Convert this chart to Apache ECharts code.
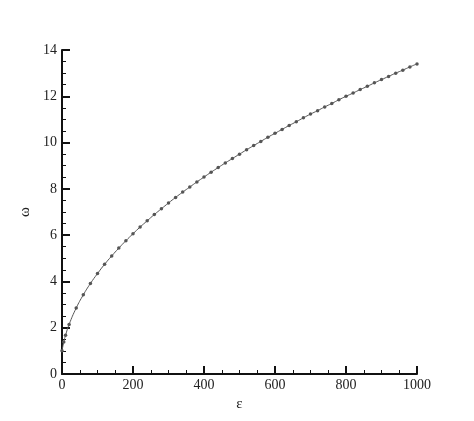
<!DOCTYPE html>
<html><head><meta charset="utf-8">
<script src="https://cdn.jsdelivr.net/npm/echarts@6/dist/echarts.min.js"></script>
<style>html,body{margin:0;padding:0;background:#fff}#c{width:474px;height:421px}</style>
</head><body><div id="c"></div>
<script>
var epsilon = [0,5,10,20,40,60,80,100,120,140,160,180,200,220,240,260,280,300,320,340,360,380,400,420,440,460,480,500,520,540,560,580,600,620,640,660,680,700,720,740,760,780,800,820,840,860,880,900,920,940,960,980,1000];
var omega = [1.00,1.38,1.67,2.14,2.85,3.42,3.91,4.34,4.74,5.10,5.44,5.76,6.06,6.35,6.62,6.89,7.14,7.39,7.63,7.86,8.08,8.30,8.51,8.72,8.92,9.12,9.31,9.50,9.69,9.87,10.05,10.23,10.40,10.57,10.74,10.90,11.07,11.23,11.38,11.54,11.69,11.85,12.00,12.14,12.29,12.43,12.58,12.72,12.86,13.00,13.13,13.27,13.40];
var xTicks = [0,200,400,600,800,1000];
var yTicks = [0,2,4,6,8,10,12,14];
var xName = 'ε', yName = 'ω';

var pts = epsilon.map(function(e,i){return [e, omega[i]];});
var font = '"Liberation Serif", "Times New Roman", serif';
var chart = echarts.init(document.getElementById('c'));
chart.setOption({
  animation:false,
  grid:{left:62,right:57,top:50,bottom:47,containLabel:false},
  xAxis:{type:'value',min:xTicks[0],max:xTicks[xTicks.length-1],interval:200,
    name:xName,nameLocation:'middle',nameGap:18,nameTextStyle:{fontFamily:font,fontSize:15,color:'#222'},
    axisLine:{lineStyle:{color:'#111',width:2}},
    axisTick:{inside:true,length:8,lineStyle:{color:'#111',width:2}},
    minorTick:{show:true,splitNumber:4,length:4,lineStyle:{color:'#111',width:1}},
    axisLabel:{margin:4,fontFamily:font,fontSize:14,color:'#222',formatter:function(v){return String(v);}},
    splitLine:{show:false}},
  yAxis:{type:'value',min:yTicks[0],max:yTicks[yTicks.length-1],interval:2,
    name:yName,nameLocation:'middle',nameGap:26,nameTextStyle:{fontFamily:font,fontSize:15,color:'#222'},
    axisLine:{lineStyle:{color:'#111',width:2}},
    axisTick:{inside:true,length:8,lineStyle:{color:'#111',width:2}},
    minorTick:{show:true,splitNumber:4,length:4,lineStyle:{color:'#111',width:1}},
    axisLabel:{margin:5,fontFamily:font,fontSize:14,color:'#222',formatter:function(v){return String(v);}},
    splitLine:{show:false}},
  series:[{type:'line',data:pts,smooth:true,showAllSymbol:true,symbol:'circle',symbolSize:3.5,
    lineStyle:{color:'#555',width:1},itemStyle:{color:'#555'}}]
});
</script></body></html>
